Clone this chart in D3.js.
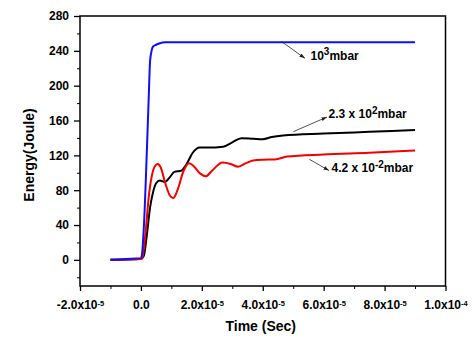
<!DOCTYPE html>
<html>
<head>
<meta charset="utf-8">
<script src="https://cdn.jsdelivr.net/npm/d3@7"></script>
<style>
  body { margin: 0; background: #fff; }
  svg text { font-family: Arial, "Liberation Sans", sans-serif; font-weight: bold; }
</style>
</head>
<body>
<svg id="chart" width="474" height="339"></svg>
<script>
// time values in microseconds, energies in joule
const blueT = [-10, -5, 0, 0.3, 1, 2, 2.6, 3, 3.5, 4, 5, 6, 8, 10, 20, 40, 60, 80, 90];
const blueV = [0, 1, 2, 5, 40, 130, 190, 228, 240, 245, 247, 248.5, 250, 250, 250, 250, 250, 250, 250];

const blackT = [-10, 0, 0.7, 1, 2, 3, 4, 5, 6.2, 7.9, 9.5, 11, 13.3, 15, 17, 19.3, 22, 27, 30, 33, 37, 40, 43, 46.7, 60, 75, 90];
const blackV = [0, 1, 3, 5, 30, 60, 78, 88, 91, 89.5, 95, 101, 102.5, 110, 123, 129, 129, 130, 135, 139.6, 139, 138.6, 141, 142.7, 145, 147, 149];

const redT = [-10, 0, 0.5, 1.5, 2.5, 3.5, 4.5, 5.5, 6.5, 8, 9.5, 10.6, 12, 14, 15.8, 17.5, 19.5, 21.3, 23.5, 26.8, 29.5, 31.9, 34.5, 36.8, 40, 44, 48, 60, 75, 90];
const redV = [0, 1, 3, 30, 70, 95, 107, 110, 106, 88, 74, 71, 80, 102, 111, 107, 99, 96, 103, 111.7, 110, 107, 111, 114, 115, 115.3, 118.6, 121, 123, 125.5];

const xMajor = [-2e-5, 0, 2e-5, 4e-5, 6e-5, 8e-5, 1e-4];
const xMinor = [-1e-5, 1e-5, 3e-5, 5e-5, 7e-5, 9e-5];
const xMant = ["-2.0", "0.0", "2.0", "4.0", "6.0", "8.0", "1.0"];
const xExp = ["-5", "", "-5", "-5", "-5", "-5", "-4"];
const yMajor = [0, 40, 80, 120, 160, 200, 240, 280];
const yMinor = [-20, 20, 60, 100, 140, 180, 220, 260];

const svg = d3.select("#chart");
const L = 80, R = 445.5, T = 16, B = 286;

const x = d3.scaleLinear().domain([-2e-5, 1e-4]).range([L, R]);
const y = d3.scaleLinear().domain([-30, 280]).range([B, T]);

// minor ticks
svg.append("g").attr("transform", `translate(0,${B})`)
  .call(d3.axisBottom(x).tickValues(xMinor).tickSize(3).tickFormat(""))
  .call(g => g.select(".domain").remove());
svg.append("g").attr("transform", `translate(${L},0)`)
  .call(d3.axisLeft(y).tickValues(yMinor).tickSize(3).tickFormat(""))
  .call(g => g.select(".domain").remove());

// major x
const gx = svg.append("g").attr("transform", `translate(0,${B})`)
  .call(d3.axisBottom(x).tickValues(xMajor).tickSize(5).tickPadding(9.5).tickFormat(""))
  .call(g => g.select(".domain").remove());
gx.selectAll(".tick text").each(function(d, i) {
  const t = d3.select(this).attr("font-size", 12).attr("fill", "#000")
    .attr("font-family", null);
  t.append("tspan").text(xMant[i] + (xExp[i] ? "x10" : ""));
  if (xExp[i]) t.append("tspan").attr("dy", "-0.45em").attr("font-size", 7.5).text(xExp[i]);
});
gx.selectAll(".tick line").attr("stroke-width", 1.3);

// major y
const gy = svg.append("g").attr("transform", `translate(${L},0)`)
  .call(d3.axisLeft(y).tickValues(yMajor).tickSize(6).tickPadding(5))
  .call(g => g.select(".domain").remove());
gy.selectAll(".tick text").attr("font-size", 12).attr("font-family", null).attr("fill", "#000");
gy.selectAll(".tick line").attr("stroke-width", 1.3);

// frame
svg.append("rect").attr("x", L).attr("y", T).attr("width", R - L).attr("height", B - T)
  .attr("fill", "none").attr("stroke", "#000").attr("stroke-width", 1.5);

// series
const line = d3.line().x(d => x(d[0] * 1e-6)).y(d => y(d[1])).curve(d3.curveMonotoneX);
const series = [
  { t: blackT, v: blackV, c: "#000000" },
  { t: redT, v: redV, c: "#ee0000" },
  { t: blueT, v: blueV, c: "#1010ee" }
];
series.forEach(s => {
  svg.append("path").datum(s.t.map((t, i) => [t, s.v[i]]))
    .attr("fill", "none").attr("stroke", s.c).attr("stroke-width", 2)
    .attr("stroke-linejoin", "round").attr("d", line);
});

// annotations
svg.append("defs").append("marker").attr("id", "ah")
  .attr("viewBox", "0 0 10 10").attr("refX", 10).attr("refY", 5)
  .attr("markerWidth", 7).attr("markerHeight", 7).attr("orient", "auto")
  .append("path").attr("d", "M0,1.5L10,5L0,8.5z").attr("fill", "#222");

const notes = [
  { from: [281.7, 41.7], to: [305, 58.3], tx: 310.5, ty: 59.5, a: "10", sup: "3", b: "mbar" },
  { from: [293.3, 131.7], to: [327, 117], tx: 328.5, ty: 118, a: "2.3 x 10", sup: "2", b: "mbar" },
  { from: [309.3, 159.3], to: [329, 170.5], tx: 331.5, ty: 172, a: "4.2 x 10", sup: "-2", b: "mbar" }
];
notes.forEach(n => {
  svg.append("line").attr("x1", n.from[0]).attr("y1", n.from[1])
    .attr("x2", n.to[0]).attr("y2", n.to[1])
    .attr("stroke", "#222").attr("stroke-width", 0.8).attr("marker-end", "url(#ah)");
  const t = svg.append("text").attr("x", n.tx).attr("y", n.ty).attr("font-size", 12);
  t.append("tspan").text(n.a);
  t.append("tspan").attr("dy", -4.5).attr("font-size", 10).text(n.sup);
  t.append("tspan").attr("dy", 4.5).text(n.b);
});

// axis titles
svg.append("text").attr("x", (L + R) / 2 - 2).attr("y", 331).attr("text-anchor", "middle")
  .attr("font-size", 14).text("Time (Sec)");
svg.append("text").attr("transform", `translate(34,${(T + B) / 2 + 4}) rotate(-90)`)
  .attr("text-anchor", "middle").attr("font-size", 14).text("Energy(Joule)");
</script>
</body>
</html>
